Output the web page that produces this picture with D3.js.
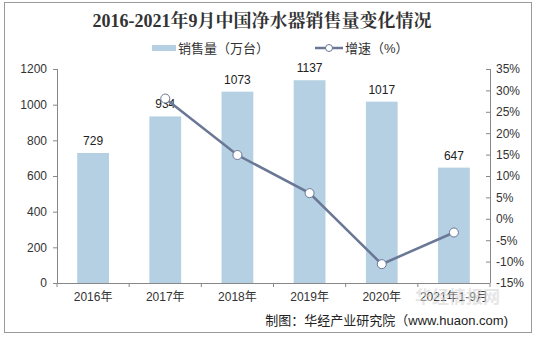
<!DOCTYPE html>
<html>
<head>
<meta charset="utf-8">
<script src="https://cdn.jsdelivr.net/npm/d3@7"></script>
<style>
  body { margin: 0; background: #fff; }
  svg text { font-family: "Liberation Sans", Arial, "Noto Sans CJK SC", sans-serif; }
</style>
</head>
<body>
<svg id="chart"></svg>
<script>
var years = ['2016年', '2017年', '2018年', '2019年', '2020年', '2021年1-9月'];
var sales = [729, 934, 1073, 1137, 1017, 647];
var growth = [null, 28.1, 14.9, 6.0, -10.6, -3.2];
var salesTicks = [0, 200, 400, 600, 800, 1000, 1200];
var growthTicks = [-15, -10, -5, 0, 5, 10, 15, 20, 25, 30, 35];

var width = 535, height = 337;
var plotLeft = 57, plotRight = 490, plotTop = 69, plotBottom = 283;

var svg = d3.select('#chart')
    .attr('width', width)
    .attr('height', height);

// frame
svg.append('rect')
    .attr('x', 4.5).attr('y', 2.5)
    .attr('width', 527).attr('height', 330)
    .attr('fill', '#fff')
    .attr('stroke', '#9a9a9a');

var xScale = d3.scaleBand()
    .domain(years)
    .range([plotLeft, plotRight])
    .paddingInner(0.56)
    .paddingOuter(0.28);

var yScale = d3.scaleLinear()
    .domain([0, 1200])
    .range([plotBottom, plotTop]);

var y2Scale = d3.scaleLinear()
    .domain([-15, 35])
    .range([plotBottom, plotTop]);

var band = d3.scaleBand().domain(years).range([plotLeft, plotRight]);

// bars
svg.selectAll('.bar')
    .data(sales)
    .enter()
    .append('rect')
    .attr('x', (d, i) => xScale(years[i]))
    .attr('y', d => yScale(d))
    .attr('width', xScale.bandwidth())
    .attr('height', d => plotBottom - yScale(d))
    .attr('fill', '#b4d0e2');

// bar labels
svg.selectAll('.barLabel')
    .data(sales)
    .enter()
    .append('text')
    .attr('x', (d, i) => xScale(years[i]) + xScale.bandwidth() / 2)
    .attr('y', d => yScale(d) - 8)
    .attr('text-anchor', 'middle')
    .attr('font-size', 12)
    .attr('fill', '#222')
    .text(d => d);

// left axis
var yAxis = d3.axisLeft(yScale)
    .tickValues(salesTicks)
    .tickSize(4)
    .tickPadding(6)
    .tickFormat(d => d);
var gy = svg.append('g')
    .attr('transform', 'translate(' + plotLeft + ',0)')
    .call(yAxis);

// right axis
var y2Axis = d3.axisRight(y2Scale)
    .tickValues(growthTicks)
    .tickSize(-4)
    .tickPadding(6)
    .tickFormat(d => d + '%');
var gy2 = svg.append('g')
    .attr('transform', 'translate(' + plotRight + ',0)')
    .call(y2Axis);

// bottom axis
var xAxis = d3.axisBottom(band)
    .tickSize(0)
    .tickPadding(9);
var gx = svg.append('g')
    .attr('transform', 'translate(0,' + plotBottom + ')')
    .call(xAxis);
gx.selectAll('.boundary')
    .data(d3.range(years.length + 1))
    .enter()
    .append('line')
    .attr('x1', i => plotLeft + i * band.bandwidth())
    .attr('x2', i => plotLeft + i * band.bandwidth())
    .attr('y1', 0).attr('y2', 4)
    .attr('stroke', '#888');

[gx, gy, gy2].forEach(function(g) {
    g.selectAll('.domain').attr('stroke', '#888');
    g.selectAll('.tick line').attr('stroke', '#888');
    g.selectAll('text')
        .attr('font-size', 12)
        .attr('fill', '#333');
});
gy.select('.domain').attr('d', 'M0.5,' + plotTop + 'V' + plotBottom);
gy2.select('.domain').attr('d', 'M0.5,' + plotTop + 'V' + plotBottom);
gx.select('.domain').attr('d', 'M' + plotLeft + ',0.5H' + plotRight);

// growth line
var pts = growth.map((g, i) => ({ g: g, x: band(years[i]) + band.bandwidth() / 2 }))
    .filter(d => d.g !== null);

var line = d3.line()
    .x(d => d.x)
    .y(d => y2Scale(d.g));

svg.append('path')
    .datum(pts)
    .attr('d', line)
    .attr('fill', 'none')
    .attr('stroke', '#6a7795')
    .attr('stroke-width', 2.5);

svg.selectAll('.dot')
    .data(pts)
    .enter()
    .append('circle')
    .attr('cx', d => d.x)
    .attr('cy', d => y2Scale(d.g))
    .attr('r', 4.5)
    .attr('fill', '#fff')
    .attr('stroke', '#6a7795')
    .attr('stroke-width', 1);

// title
svg.append('text')
    .attr('x', 262)
    .attr('y', 27)
    .attr('text-anchor', 'middle')
    .attr('font-size', 18)
    .attr('font-weight', 'bold')
    .attr('fill', '#333')
    .style('font-family', '"Liberation Serif", "Noto Serif CJK SC", "Noto Sans CJK SC", serif')
    .text('2016-2021年9月中国净水器销售量变化情况');

// legend
var lg = svg.append('g').attr('transform', 'translate(0,49)');
lg.append('rect')
    .attr('x', 152).attr('y', -4)
    .attr('width', 24).attr('height', 6)
    .attr('fill', '#b4d0e2');
lg.append('text')
    .attr('x', 178).attr('y', 4)
    .attr('font-size', 13)
    .attr('fill', '#333')
    .text('销售量（万台）');
lg.append('line')
    .attr('x1', 315).attr('x2', 343)
    .attr('y1', -1).attr('y2', -1)
    .attr('stroke', '#6a7795')
    .attr('stroke-width', 2.5);
lg.append('circle')
    .attr('cx', 329).attr('cy', -1)
    .attr('r', 3.5)
    .attr('fill', '#fff')
    .attr('stroke', '#6a7795');
lg.append('text')
    .attr('x', 345).attr('y', 4)
    .attr('font-size', 13)
    .attr('fill', '#333')
    .text('增速（%）');

// watermark
svg.append('text')
    .attr('x', 500)
    .attr('y', 303)
    .attr('text-anchor', 'end')
    .attr('font-size', 17)
    .attr('font-weight', 'bold')
    .attr('fill', '#d6d6d6')
    .attr('opacity', 0.6)
    .text('华经情报网');

// source
svg.append('text')
    .attr('x', 508)
    .attr('y', 325)
    .attr('text-anchor', 'end')
    .attr('font-size', 13)
    .attr('fill', '#222')
    .text('制图：华经产业研究院（www.huaon.com)');
</script>
</body>
</html>
